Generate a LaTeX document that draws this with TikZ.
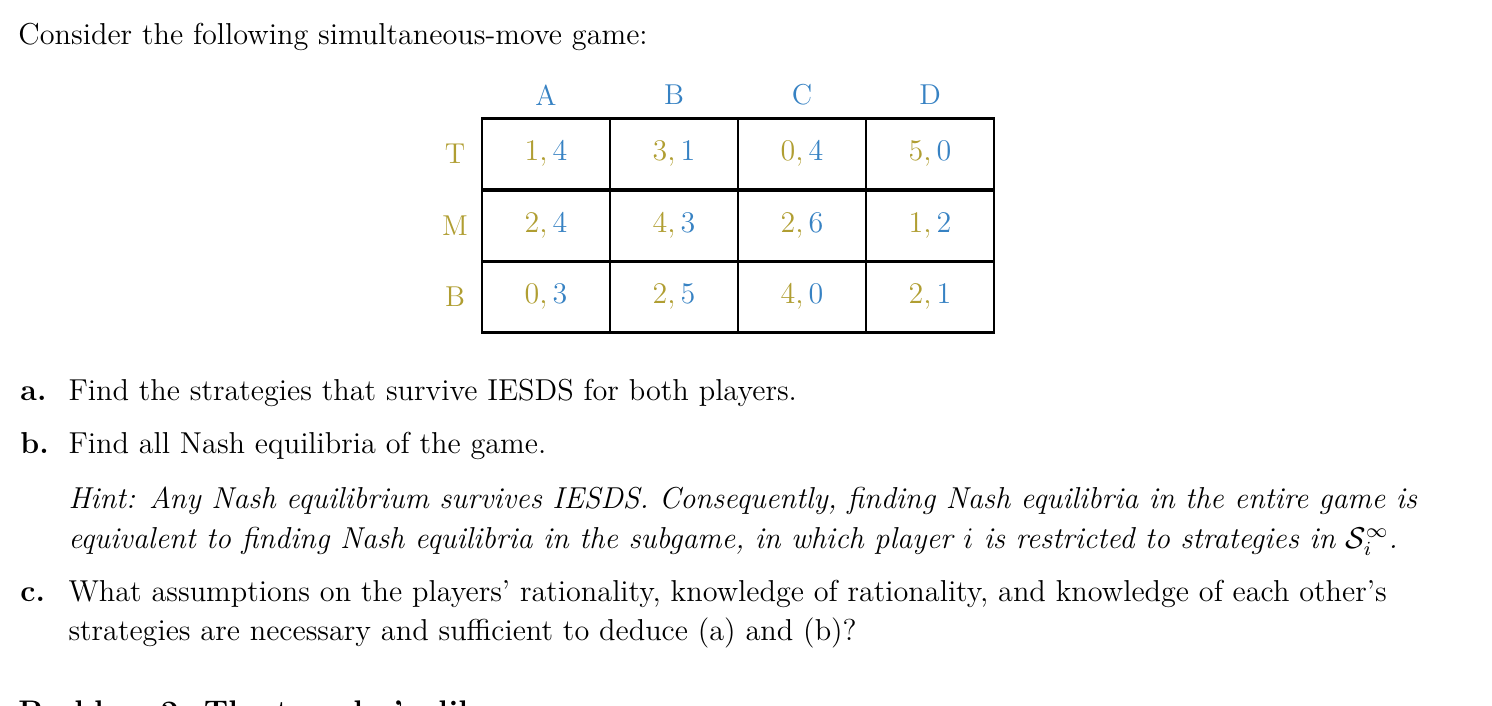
\documentclass[tikz,border=0pt]{standalone}
\usepackage{amsmath}
\definecolor{pone}{RGB}{176,158,50}
\definecolor{ptwo}{RGB}{55,130,195}
\begin{document}
\begin{tikzpicture}[x=0.4pt,y=-0.4pt,
  txt/.style={anchor=base west,inner sep=0pt,font=\fontsize{12.1}{14}\selectfont},
  cell/.style={draw=black,line width=1pt,minimum width=51.2pt,minimum height=28.4pt,inner sep=0pt,font=\fontsize{11.5}{13}\selectfont},
  hdr/.style={text=ptwo,font=\fontsize{11.5}{13}\selectfont,inner sep=0pt},
  rlab/.style={text=pone,font=\fontsize{11.5}{13}\selectfont,inner sep=0pt}]
\clip (0,0) rectangle (1492,706);
\useasboundingbox (0,0) rectangle (1492,706);
\node[txt] (intro) at (18,45) {Consider the following simultaneous-move game:};
\foreach \c/\x in {A/546,B/674,C/802,D/930}{\node[hdr] (h\c) at (\x,95) {\c};}
\foreach \r/\y in {T/154,M/226,B/297}{\node[rlab] (r\r) at (455,\y) {\r};}
\foreach \r/\y/\a/\b/\c/\d/\e/\f/\g/\h in {1/154/1/4/3/1/0/4/5/0,2/226/2/4/4/3/2/6/1/2,3/297/0/3/2/5/4/0/2/1}{
  \node[cell] (c\r1) at (546,\y) {$\color{pone}\a,\color{ptwo}\b$};
  \node[cell] (c\r2) at (674,\y) {$\color{pone}\c,\color{ptwo}\d$};
  \node[cell] (c\r3) at (802,\y) {$\color{pone}\e,\color{ptwo}\f$};
  \node[cell] (c\r4) at (930,\y) {$\color{pone}\g,\color{ptwo}\h$};
}
\node[txt] (la) at (20,400) {\textbf{a.}};
\node[txt] (ta) at (68,400) {Find the strategies that survive IESDS for both players.};
\node[txt] (lb) at (20,453) {\textbf{b.}};
\node[txt] (tb) at (68,453) {Find all Nash equilibria of the game.};
\node[txt] (h1) at (68,508) {\textit{Hint: Any Nash equilibrium survives IESDS. Consequently, finding Nash equilibria in the entire game is}};
\node[txt] (h2) at (68,548) {\textit{equivalent to finding Nash equilibria in the subgame, in which player $i$ is restricted to strategies in $\mathcal{S}_i^\infty$.}};
\node[txt] (lc) at (20,601) {\textbf{c.}};
\node[txt] (tc1) at (68,601) {What assumptions on the players' rationality, knowledge of rationality, and knowledge of each other's};
\node[txt] (tc2) at (68,640) {strategies are necessary and sufficient to deduce (a) and (b)?};
\node[txt,font=\fontsize{12.5}{14}\selectfont\bfseries] (prob) at (18,722) {Problem 2. The traveler's dilemma};
\end{tikzpicture}
\end{document}
